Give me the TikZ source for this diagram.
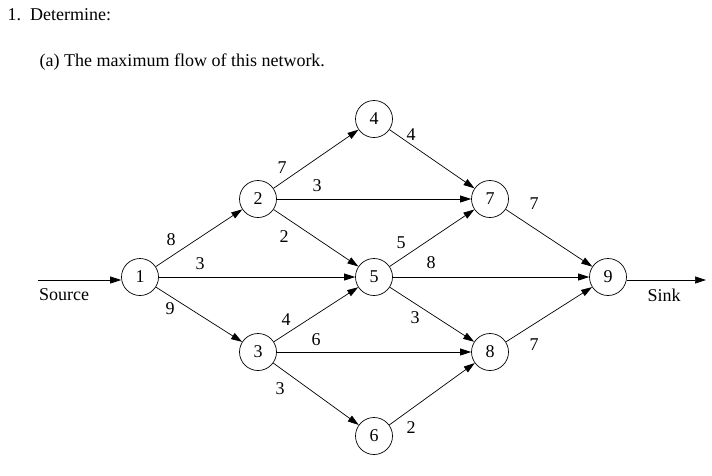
\documentclass[tikz,border=0pt]{standalone}
\usepackage{fontspec}
\setmainfont{Liberation Serif}
\usetikzlibrary{arrows.meta}
\begin{document}
\begin{tikzpicture}[x=1pt,y=-1pt,
  vert/.style={circle,draw,line width=0.7pt,minimum size=37pt,inner sep=0pt,font=\fontsize{18}{18}\selectfont},
  lab/.style={font=\fontsize{18}{18}\selectfont},
  edge/.style={-{Triangle[length=11pt,width=7pt]},line width=0.7pt}]
\useasboundingbox (0,0) rectangle (712,475);
\node[lab,anchor=west] (t1) at (4,15) {1.\ \ Determine:};
\node[lab,anchor=west] (t2) at (36,62) {(a) The maximum flow of this network.};
\node[vert] (n1) at (140,277) {1};
\node[vert] (n2) at (258,199) {2};
\node[vert] (n3) at (258,352) {3};
\node[vert] (n4) at (374,119) {4};
\node[vert] (n5) at (374,277) {5};
\node[vert] (n6) at (374,436) {6};
\node[vert] (n7) at (490,199) {7};
\node[vert] (n8) at (490,352) {8};
\node[vert] (n9) at (608,277) {9};
\coordinate (src) at (38,280);
\coordinate (snk) at (706,280);
\draw[edge] (src) -- (n1.west|-src);
\draw[edge] (n9.east|-snk) -- (snk);
\node[lab] (ls) at (64,295) {Source};
\node[lab] (lk) at (664,295) {Sink};
\draw[edge] (n1) -- (n2);
\draw[edge] (n1) -- (n5);
\draw[edge] (n1) -- (n3);
\draw[edge] (n2) -- (n4);
\draw[edge] (n2) -- (n7);
\draw[edge] (n2) -- (n5);
\draw[edge] (n3) -- (n5);
\draw[edge] (n3) -- (n8);
\draw[edge] (n3) -- (n6);
\draw[edge] (n4) -- (n7);
\draw[edge] (n5) -- (n7);
\draw[edge] (n5) -- (n9);
\draw[edge] (n5) -- (n8);
\draw[edge] (n6) -- (n8);
\draw[edge] (n7) -- (n9);
\draw[edge] (n8) -- (n9);
\node[lab] at (171,240) {8};
\node[lab] at (200,264) {3};
\node[lab] at (170,309) {9};
\node[lab] at (282,168) {7};
\node[lab] at (317,186) {3};
\node[lab] at (284,237) {2};
\node[lab] at (286,320) {4};
\node[lab] at (316,340) {6};
\node[lab] at (280,389) {3};
\node[lab] at (411,135) {4};
\node[lab] at (401,243) {5};
\node[lab] at (431,263) {8};
\node[lab] at (415,318) {3};
\node[lab] at (534,204) {7};
\node[lab] at (534,345) {7};
\node[lab] at (411,428) {2};
\end{tikzpicture}
\end{document}
